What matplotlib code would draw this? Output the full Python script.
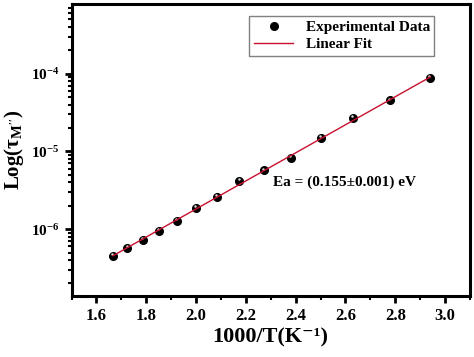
import numpy as np
import matplotlib.pyplot as plt
from matplotlib.ticker import LogLocator, MultipleLocator, NullFormatter

# data
inv_t = [1.667, 1.724, 1.786, 1.852, 1.923, 2.000, 2.083, 2.174, 2.273,
         2.381, 2.500, 2.632, 2.778, 2.941]
tau = [4.55e-7, 5.77e-7, 7.31e-7, 9.6e-7, 1.28e-6, 1.85e-6, 2.59e-6,
       4.11e-6, 5.69e-6, 8.3e-6, 1.47e-5, 2.72e-5, 4.53e-5, 8.7e-5]
x_ticks = [1.6, 1.8, 2.0, 2.2, 2.4, 2.6, 2.8, 3.0]
y_ticks = [1e-6, 1e-5, 1e-4]
y_ticklabels = [r'$\mathbf{10^{-6}}$', r'$\mathbf{10^{-5}}$', r'$\mathbf{10^{-4}}$']

plt.rcParams['font.family'] = ['Liberation Serif', 'DejaVu Serif']
plt.rcParams['font.weight'] = 'bold'
plt.rcParams['mathtext.fontset'] = 'custom'
plt.rcParams['mathtext.rm'] = 'Liberation Serif:bold'
plt.rcParams['mathtext.bf'] = 'Liberation Serif:bold'
plt.rcParams['mathtext.it'] = 'Liberation Serif:bold'

inv_t = np.array(inv_t)
tau = np.array(tau)
coef = np.polyfit(inv_t, np.log10(tau), 1)
x_fit = np.linspace(inv_t[0], inv_t[-1], 50)
y_fit = 10 ** np.polyval(coef, x_fit)

fig = plt.figure(figsize=(4.74, 3.57), dpi=100)
ax = fig.add_axes([71.5 / 474, 1 - 296 / 357, (470 - 71.5) / 474, (296 - 4) / 357])

ax.plot(inv_t, tau, 'o', color='black', markersize=5.5, zorder=2,
        label='Experimental Data')
ax.plot(inv_t * 0.9985, tau * 1.06, 'o', color='#d8d8d8', markersize=1.8,
        markeredgewidth=0, zorder=3)
ax.plot(x_fit, y_fit, '-', color='#c8102e', lw=1.0, zorder=4,
        label='Linear Fit')

ax.set_yscale('log')
ax.set_xlim(1.5, 3.1)
ax.set_ylim(1.38e-7, 7.9e-4)
ax.set_xticks(x_ticks)
ax.set_xticklabels([f'{v:.1f}' for v in x_ticks], fontweight='bold')
ax.xaxis.set_minor_locator(MultipleLocator(0.1))
ax.set_yticks(y_ticks)
ax.set_yticklabels(y_ticklabels)
ax.yaxis.set_minor_locator(LogLocator(base=10, subs=np.arange(2, 10)))
ax.yaxis.set_minor_formatter(NullFormatter())

ax.tick_params(which='major', direction='out', length=5, width=2,
               top=False, right=False)
ax.tick_params(axis='x', which='major', labelsize=12)
ax.tick_params(axis='y', which='major', labelsize=11)
ax.tick_params(which='minor', direction='out', length=3, width=1.5,
               top=False, right=False)
for s in ax.spines.values():
    s.set_linewidth(2.2)

ax.set_xlabel('1000/T(K\u207b\u00b9)', fontsize=16, fontweight='bold',
              labelpad=3)
ax.set_ylabel(r"Log($\mathbf{\tau_{M''}}$)", fontsize=15, fontweight='bold',
              labelpad=4)

ax.text(2.31, 3.6e-6, 'Ea = (0.155\u00b10.001) eV', fontsize=11,
        fontweight='bold')

leg = ax.legend(loc='upper right', prop={'size': 11, 'weight': 'bold'},
                frameon=True, fancybox=False, framealpha=1,
                edgecolor='#808080', borderpad=0.3, handlelength=2.6,
                labelspacing=0.2, bbox_to_anchor=(0.93, 0.985))
leg.get_frame().set_linewidth(1)

fig.savefig('out.png', dpi=100)
